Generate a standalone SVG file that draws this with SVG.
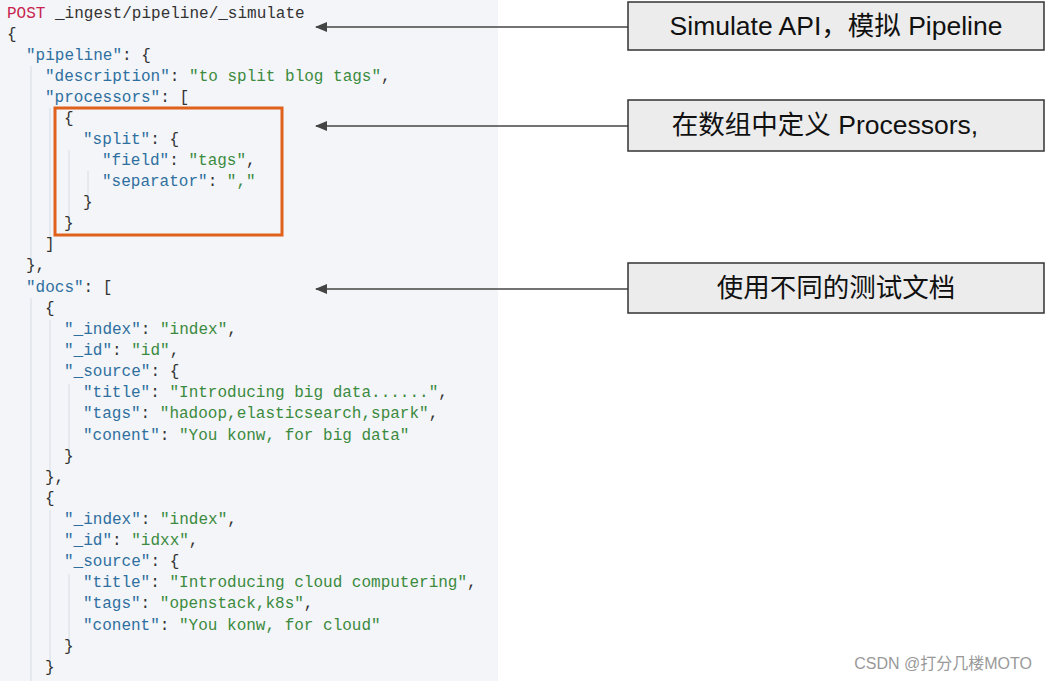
<svg xmlns="http://www.w3.org/2000/svg" width="1049" height="681" viewBox="0 0 1049 681">
<style>
.c{font-family:"Liberation Mono","DejaVu Sans Mono",monospace;font-size:16px;fill:#333}
.k{fill:#2f6f9f}.s{fill:#3b8a3e}.m{fill:#c7254e}
.lbl{font-family:"Liberation Sans","Noto Sans CJK SC",sans-serif;font-size:26.5px;fill:#111}
.box{fill:#ececec;stroke:#333;stroke-width:1.5}
.con{stroke:#444;stroke-width:1.5;fill:none;marker-end:url(#ah)}
.g{stroke:#d8dde3;stroke-width:1}
</style>
<defs><marker id="ah" viewBox="0 0 12 10" refX="11" refY="5" markerWidth="12" markerHeight="10" markerUnits="userSpaceOnUse" orient="auto"><path d="M0,0 L12,5 L0,10 z" fill="#444"/></marker></defs>
<rect x="0" y="0" width="1049" height="681" fill="#fff"/>
<rect x="0" y="0" width="498" height="681" fill="#f3f5f8"/>
<g id="guides">
<line class="g" x1="31" y1="66" x2="31" y2="260"/><line class="g" x1="31" y1="298" x2="31" y2="681"/>
<line class="g" x1="50" y1="108" x2="50" y2="240"/><line class="g" x1="69" y1="150" x2="69" y2="218"/><line class="g" x1="88" y1="171" x2="88" y2="196"/>
<line class="g" x1="50" y1="320" x2="50" y2="470"/><line class="g" x1="50" y1="510" x2="50" y2="660"/>
<line class="g" x1="69" y1="384" x2="69" y2="450"/><line class="g" x1="69" y1="574" x2="69" y2="640"/>
</g>
<g id="code" class="c">
<text x="7" y="18"><tspan class="m">POST</tspan> _ingest/pipeline/_simulate</text>
<text x="7" y="39">{</text>
<text x="26" y="60"><tspan class="k">"pipeline"</tspan>: {</text>
<text x="45" y="81"><tspan class="k">"description"</tspan>: <tspan class="s">"to split blog tags"</tspan>,</text>
<text x="45" y="102"><tspan class="k">"processors"</tspan>: [</text>
<text x="64" y="123">{</text>
<text x="83" y="144"><tspan class="k">"split"</tspan>: {</text>
<text x="102" y="165"><tspan class="k">"field"</tspan>: <tspan class="s">"tags"</tspan>,</text>
<text x="102" y="186"><tspan class="k">"separator"</tspan>: <tspan class="s">","</tspan></text>
<text x="83" y="207">}</text>
<text x="64" y="228">}</text>
<text x="45" y="249">]</text>
<text x="26" y="270">},</text>
<text x="26" y="292"><tspan class="k">"docs"</tspan>: [</text>
<text x="45" y="313">{</text>
<text x="64" y="334"><tspan class="k">"_index"</tspan>: <tspan class="s">"index"</tspan>,</text>
<text x="64" y="355"><tspan class="k">"_id"</tspan>: <tspan class="s">"id"</tspan>,</text>
<text x="64" y="376"><tspan class="k">"_source"</tspan>: {</text>
<text x="83" y="397"><tspan class="k">"title"</tspan>: <tspan class="s">"Introducing big data......"</tspan>,</text>
<text x="83" y="418"><tspan class="k">"tags"</tspan>: <tspan class="s">"hadoop,elasticsearch,spark"</tspan>,</text>
<text x="83" y="440"><tspan class="k">"conent"</tspan>: <tspan class="s">"You konw, for big data"</tspan></text>
<text x="64" y="461">}</text>
<text x="45" y="482">},</text>
<text x="45" y="503">{</text>
<text x="64" y="524"><tspan class="k">"_index"</tspan>: <tspan class="s">"index"</tspan>,</text>
<text x="64" y="545"><tspan class="k">"_id"</tspan>: <tspan class="s">"idxx"</tspan>,</text>
<text x="64" y="566"><tspan class="k">"_source"</tspan>: {</text>
<text x="83" y="587"><tspan class="k">"title"</tspan>: <tspan class="s">"Introducing cloud computering"</tspan>,</text>
<text x="83" y="608"><tspan class="k">"tags"</tspan>: <tspan class="s">"openstack,k8s"</tspan>,</text>
<text x="83" y="630"><tspan class="k">"conent"</tspan>: <tspan class="s">"You konw, for cloud"</tspan></text>
<text x="64" y="651">}</text>
<text x="45" y="672">}</text>
</g>
<g id="highlight"><rect x="55" y="108" width="227" height="127" fill="none" stroke="#e0611c" stroke-width="3"/></g>
<g id="connectors">
<line class="con" x1="628" y1="27" x2="316" y2="27"/>
<line class="con" x1="628" y1="126" x2="316" y2="126"/>
<line class="con" x1="628" y1="289" x2="316" y2="289"/>
</g>
<g id="n1"><rect class="box" x="628" y="2" width="416" height="48"/><text class="lbl" x="836" y="35" text-anchor="middle">Simulate API，模拟 Pipeline</text></g>
<g id="n2"><rect class="box" x="628" y="100" width="416" height="51"/><text class="lbl" x="825" y="134" text-anchor="middle">在数组中定义 Processors,</text></g>
<g id="n3"><rect class="box" x="628" y="263" width="416" height="50"/><text class="lbl" x="836" y="297" text-anchor="middle">使用不同的测试文档</text></g>
<text x="1032" y="669" text-anchor="end" font-family="Liberation Sans,Noto Sans CJK SC,sans-serif" font-size="16" fill="#999">CSDN @打分几楼MOTO</text>
</svg>
